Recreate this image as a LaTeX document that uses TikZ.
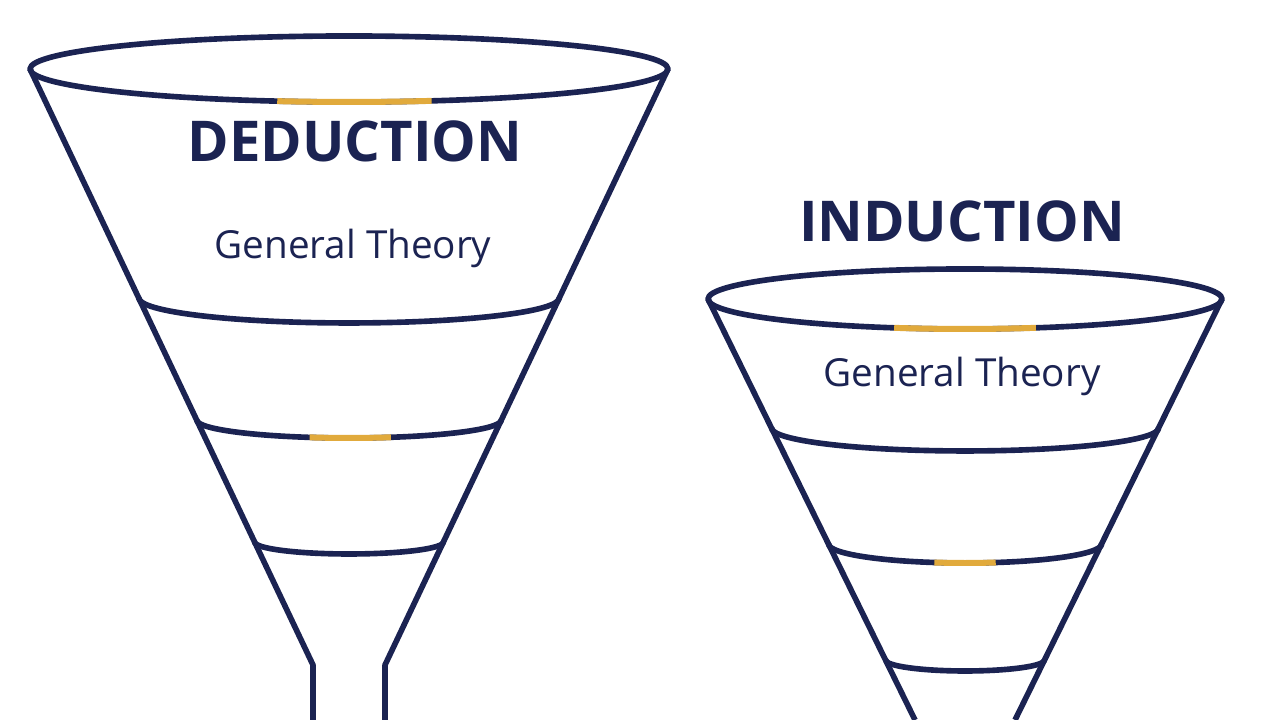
\documentclass[tikz,border=0pt]{standalone}
\usepackage{fontspec}
\setmainfont{Open Sans}
\usepackage{tikz}
\usetikzlibrary{calc}
\definecolor{navy}{HTML}{1B2352}
\definecolor{gold}{HTML}{E1AA3C}
\tikzset{
  funnel/.style={draw=navy, line width=1.6pt, line join=round},
  goldseg/.style={draw=gold, line width=1.7pt},
  headtext/.style={text=navy, font=\fontsize{16}{18}\selectfont\bfseries},
  theorytext/.style={text=navy, font=\fontsize{11}{13}\selectfont},
}

\begin{document}
\begin{tikzpicture}
\useasboundingbox (0,0) rectangle (12.8,7.2);

% deduction funnel
\coordinate (dtc) at (3.49,6.51);
\coordinate (dtl) at (0.30,6.51);
\coordinate (dtr) at (6.68,6.51);
\coordinate (dnl) at (3.13,0.55);
\coordinate (dnr) at (3.85,0.55);
\coordinate (dbl) at (3.13,0);
\coordinate (dbr) at (3.85,0);
\draw[funnel] (dtc) ellipse [x radius=3.19, y radius=0.33];
\draw[funnel] (dtl) -- (dnl) -- (dbl);
\draw[funnel] (dtr) -- (dnr) -- (dbr);

\coordinate (d2l) at (intersection of dtl--dnl and 0,4.22--1,4.22);
\coordinate (d2r) at (intersection of dtr--dnr and 0,4.22--1,4.22);
\coordinate (d3l) at (intersection of dtl--dnl and 0,3.00--1,3.00);
\coordinate (d3r) at (intersection of dtr--dnr and 0,3.00--1,3.00);
\coordinate (d4l) at (intersection of dtl--dnl and 0,1.78--1,1.78);
\coordinate (d4r) at (intersection of dtr--dnr and 0,1.78--1,1.78);
\draw[funnel] let \p1=(d2l), \p2=(d2r) in (d2l) arc[start angle=180, end angle=360, x radius={(\x2-\x1)/2}, y radius=0.25cm];
\draw[funnel] let \p1=(d3l), \p2=(d3r) in (d3l) arc[start angle=180, end angle=360, x radius={(\x2-\x1)/2}, y radius=0.18cm];
\draw[funnel] let \p1=(d4l), \p2=(d4r) in (d4l) arc[start angle=180, end angle=360, x radius={(\x2-\x1)/2}, y radius=0.12cm];

\draw[goldseg] ($(dtc)+(257:3.19 and 0.33)$) arc[start angle=257, end angle=285, x radius=3.19, y radius=0.33];
\coordinate (d3c) at (3.49,3.00);
\draw[goldseg] ($(d3c)+(255:1.52 and 0.18)$) arc[start angle=255, end angle=286, x radius=1.52, y radius=0.18];

\node[headtext] (dhead) at (3.55,5.79) {DEDUCTION};
\node[theorytext] (dtheory) at (3.53,4.72) {General Theory};

% induction funnel
\coordinate (itc) at (9.65,4.21);
\coordinate (itl) at (7.08,4.21);
\coordinate (itr) at (12.22,4.21);
\coordinate (ibl) at (9.15,0);
\coordinate (ibr) at (10.15,0);
\draw[funnel] (itc) ellipse [x radius=2.57, y radius=0.30];
\draw[funnel] (itl) -- (ibl);
\draw[funnel] (itr) -- (ibr);

\coordinate (i2l) at (intersection of itl--ibl and 0,2.92--1,2.92);
\coordinate (i2r) at (intersection of itr--ibr and 0,2.92--1,2.92);
\coordinate (i3l) at (intersection of itl--ibl and 0,1.76--1,1.76);
\coordinate (i3r) at (intersection of itr--ibr and 0,1.76--1,1.76);
\coordinate (i4l) at (intersection of itl--ibl and 0,0.60--1,0.60);
\coordinate (i4r) at (intersection of itr--ibr and 0,0.60--1,0.60);
\draw[funnel] let \p1=(i2l), \p2=(i2r) in (i2l) arc[start angle=180, end angle=360, x radius={(\x2-\x1)/2}, y radius=0.23cm];
\draw[funnel] let \p1=(i3l), \p2=(i3r) in (i3l) arc[start angle=180, end angle=360, x radius={(\x2-\x1)/2}, y radius=0.19cm];
\draw[funnel] let \p1=(i4l), \p2=(i4r) in (i4l) arc[start angle=180, end angle=360, x radius={(\x2-\x1)/2}, y radius=0.11cm];

\draw[goldseg] ($(itc)+(254:2.57 and 0.30)$) arc[start angle=254, end angle=286, x radius=2.57, y radius=0.30];
\coordinate (i3c) at (9.65,1.76);
\draw[goldseg] ($(i3c)+(257:1.365 and 0.19)$) arc[start angle=257, end angle=283, x radius=1.365, y radius=0.19];

\node[headtext] (ihead) at (9.62,4.99) {INDUCTION};
\node[theorytext] (itheory) at (9.62,3.44) {General Theory};
\end{tikzpicture}
\end{document}
